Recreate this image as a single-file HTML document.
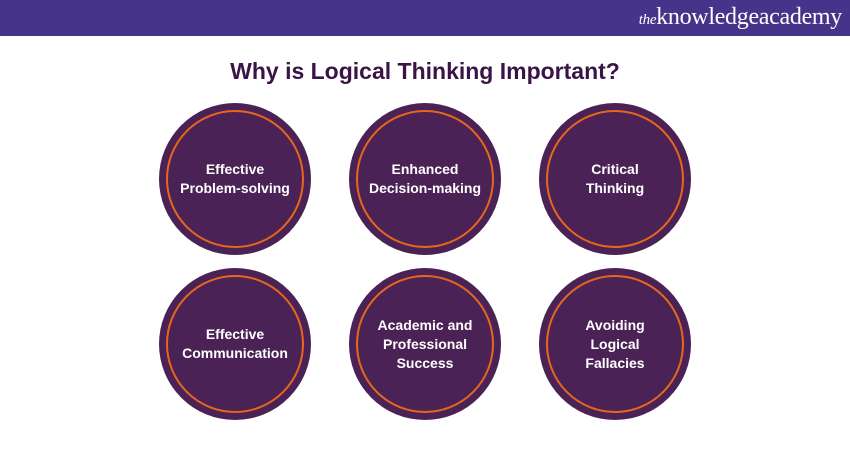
<!DOCTYPE html>
<html><head><style>
body{margin:0;width:850px;height:450px;background:#fff;position:relative;overflow:hidden;font-family:"Liberation Sans",sans-serif}
.hdr{position:absolute;left:0;top:0;width:850px;height:36px;background:#46348a}
.logo{position:absolute;right:8px;top:4px;color:#fff;font-family:"Liberation Serif",serif;font-size:24px;letter-spacing:-0.3px}
.logo i{font-size:15px}
h1{position:absolute;left:0;width:850px;top:58px;margin:0;text-align:center;font-size:23px;color:#3a1447;font-weight:bold}
.c{position:absolute;width:152px;height:152px;border-radius:50%;background:#4b2255;display:flex;align-items:center;justify-content:center}
.c::before{content:"";position:absolute;left:7px;top:7px;width:134px;height:134px;border:2px solid #e8661c;border-radius:50%}
.c span{color:#fff;font-weight:bold;font-size:14px;text-align:center;line-height:19px;position:relative}
</style></head><body>
<div class="hdr"><div class="logo"><i>the</i>knowledgeacademy</div></div>
<h1>Why is Logical Thinking Important?</h1>
<div class="c" style="left:159px;top:103px"><span>Effective<br>Problem-solving</span></div>
<div class="c" style="left:349px;top:103px"><span>Enhanced<br>Decision-making</span></div>
<div class="c" style="left:539px;top:103px"><span>Critical<br>Thinking</span></div>
<div class="c" style="left:159px;top:268px"><span>Effective<br>Communication</span></div>
<div class="c" style="left:349px;top:268px"><span>Academic and<br>Professional<br>Success</span></div>
<div class="c" style="left:539px;top:268px"><span>Avoiding<br>Logical<br>Fallacies</span></div>
</body></html>
